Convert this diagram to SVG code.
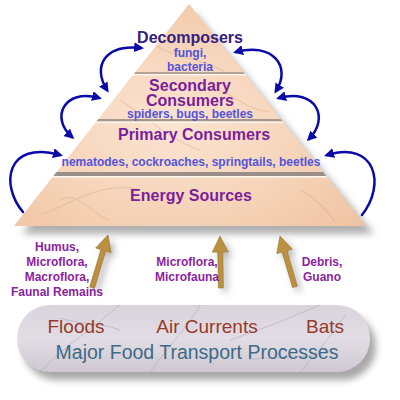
<svg xmlns="http://www.w3.org/2000/svg" width="400" height="400" viewBox="0 0 400 400">
  <defs>
    <style>
      .title { font-family: "Liberation Sans", Arial, sans-serif; font-weight: bold; font-size: 16px; fill: #7b1f9a; text-anchor: middle; }
      .dec { fill: #33207f; }
      .sub { font-family: "Liberation Sans", Arial, sans-serif; font-weight: bold; font-size: 12px; fill: #5454dc; text-anchor: middle; }
      .lbl { font-family: "Liberation Sans", Arial, sans-serif; font-weight: bold; font-size: 12px; fill: #8a1fa0; text-anchor: middle; }
      .proc { font-family: "Liberation Sans", Arial, sans-serif; font-size: 19px; fill: #963a2c; text-anchor: middle; }
      .major { font-family: "Liberation Sans", Arial, sans-serif; font-size: 19.5px; fill: #3d6a88; text-anchor: middle; }
      .cyc { fill: none; stroke: #0a0aa8; stroke-width: 2.5; stroke-linecap: round; }
      .gold { fill: #bb913f; stroke: #9a7430; stroke-width: 0.6; }
      .vein { fill: none; stroke: #d99f7c; stroke-width: 1.2; opacity: 0.35; }
      .gvein { fill: none; stroke: #a9a0ae; stroke-width: 0.9; opacity: 0.55; }
    </style>
    <marker id="ah" viewBox="0 0 10 10" refX="7" refY="5" markerWidth="10" markerHeight="10" markerUnits="userSpaceOnUse" orient="auto-start-reverse">
      <path d="M0,0 L10,5 L0,10 z" fill="#0a0aa8"/>
    </marker>
    <filter id="sh" x="-20%" y="-20%" width="150%" height="150%">
      <feGaussianBlur stdDeviation="3.5"/>
    </filter>
    <radialGradient id="peach" cx="0.45" cy="0.55" r="0.7">
      <stop offset="0" stop-color="#fbe4d2"/>
      <stop offset="0.6" stop-color="#f5d2b6"/>
      <stop offset="1" stop-color="#efc3a2"/>
    </radialGradient>
    <linearGradient id="pill" x1="0" y1="0" x2="0" y2="1">
      <stop offset="0" stop-color="#d9d3dc"/>
      <stop offset="0.5" stop-color="#e2dde4"/>
      <stop offset="1" stop-color="#cfc8d2"/>
    </linearGradient>
    <clipPath id="pyr">
      <polygon points="189,4 366,226 14,226"/>
    </clipPath>
  </defs>

  <!-- shadows -->
  <polygon points="195,12 374,234 22,234" fill="#6e6e6e" opacity="0.55" filter="url(#sh)"/>
  <rect x="23" y="313" width="353" height="67" rx="33" fill="#6e6e6e" opacity="0.6" filter="url(#sh)"/>

  <!-- pyramid -->
  <g id="pyramid">
    <polygon points="189,4 366,226 14,226" fill="url(#peach)"/>
    <g clip-path="url(#pyr)">
      <path class="vein" d="M150,40 C170,60 200,55 230,75 M120,100 C150,120 170,140 200,150 M60,200 C80,190 90,215 110,220 M300,190 C320,200 330,215 335,222 M220,90 C240,100 250,110 270,112 M40,215 C70,205 100,180 140,190"/>
      <rect x="0" y="72" width="400" height="2" fill="#b8a294"/>
      <rect x="0" y="74" width="400" height="1.5" fill="#fff6ee"/>
      <rect x="0" y="119" width="400" height="2.5" fill="#a7968c"/>
      <rect x="0" y="121.5" width="400" height="1.5" fill="#fff6ee"/>
      <rect x="0" y="172" width="400" height="4" fill="#9a8e88"/>
      <rect x="0" y="176" width="400" height="1.5" fill="#fff6ee"/>
    </g>
  </g>

  <g id="decomposers">
    <text class="title dec" x="190" y="43">Decomposers</text>
    <text class="sub" x="190" y="57">fungi,</text>
    <text class="sub" x="190" y="71">bacteria</text>
  </g>
  <g id="secondary">
    <text class="title" x="190" y="91">Secondary</text>
    <text class="title" x="190" y="106">Consumers</text>
    <text class="sub" x="190" y="118">spiders, bugs, beetles</text>
  </g>
  <g id="primary">
    <text class="title" x="194" y="140">Primary Consumers</text>
    <text class="sub" x="191" y="166">nematodes, cockroaches, springtails, beetles</text>
  </g>
  <g id="energy">
    <text class="title" x="191" y="201">Energy Sources</text>
  </g>

  <!-- connectors -->
  <g id="connectors">
    <path class="cyc" d="M107,90 C92,66 105,44 141,48" marker-start="url(#ah)" marker-end="url(#ah)"/>
    <path class="cyc" d="M236,52 C272,42 292,66 276,91" marker-start="url(#ah)" marker-end="url(#ah)"/>
    <path class="cyc" d="M99,98 C64,88 50,118 72,137" marker-start="url(#ah)" marker-end="url(#ah)"/>
    <path class="cyc" d="M279,98 C316,88 330,118 309,139" marker-start="url(#ah)" marker-end="url(#ah)"/>
    <path class="cyc" d="M23,212 C0,185 6,140 60,155" marker-end="url(#ah)"/>
    <path class="cyc" d="M362,215 C386,185 376,140 327,155" marker-end="url(#ah)"/>

    <g fill="#555" opacity="0.45" filter="url(#sh)">
      <polygon transform="translate(112,239) rotate(16.8)" points="0,0 8,16 2.5,16 2.5,55 -2.5,55 -2.5,16 -8,16"/>
      <polygon transform="translate(224,240) rotate(-1)" points="0,0 8,16 2.5,16 2.5,52 -2.5,52 -2.5,16 -8,16"/>
      <polygon transform="translate(284,240) rotate(-16.4)" points="0,0 8,16 2.5,16 2.5,53 -2.5,53 -2.5,16 -8,16"/>
    </g>
    <polygon class="gold" transform="translate(108,235) rotate(16.8)" points="0,0 8,16 2.5,16 2.5,55 -2.5,55 -2.5,16 -8,16"/>
    <polygon class="gold" transform="translate(220,236) rotate(-1)" points="0,0 8,16 2.5,16 2.5,52 -2.5,52 -2.5,16 -8,16"/>
    <polygon class="gold" transform="translate(280,236) rotate(-16.4)" points="0,0 8,16 2.5,16 2.5,53 -2.5,53 -2.5,16 -8,16"/>
  </g>

  <g id="labels">
    <text class="lbl" x="57" y="251">Humus,</text>
    <text class="lbl" x="57" y="266">Microflora,</text>
    <text class="lbl" x="57" y="281">Macroflora,</text>
    <text class="lbl" x="57" y="296">Faunal Remains</text>
    <text class="lbl" x="187" y="266">Microflora,</text>
    <text class="lbl" x="187" y="281">Microfauna</text>
    <text class="lbl" x="322" y="266">Debris,</text>
    <text class="lbl" x="322" y="281">Guano</text>
  </g>

  <g id="transport">
    <rect x="17" y="305" width="353" height="67" rx="33" fill="url(#pill)"/>
    <path class="gvein" d="M40,372 C60,350 90,330 120,305 M150,372 C170,345 185,330 200,305 M230,340 C260,330 290,318 320,305 M300,372 C320,350 335,330 345,315 M60,318 C80,325 100,322 120,330 M250,360 C270,355 300,362 330,350"/>
    <text class="proc" x="76" y="333">Floods</text>
    <text class="proc" x="207" y="333">Air Currents</text>
    <text class="proc" x="325" y="333">Bats</text>
    <text class="major" x="197" y="359">Major Food Transport Processes</text>
  </g>
</svg>
